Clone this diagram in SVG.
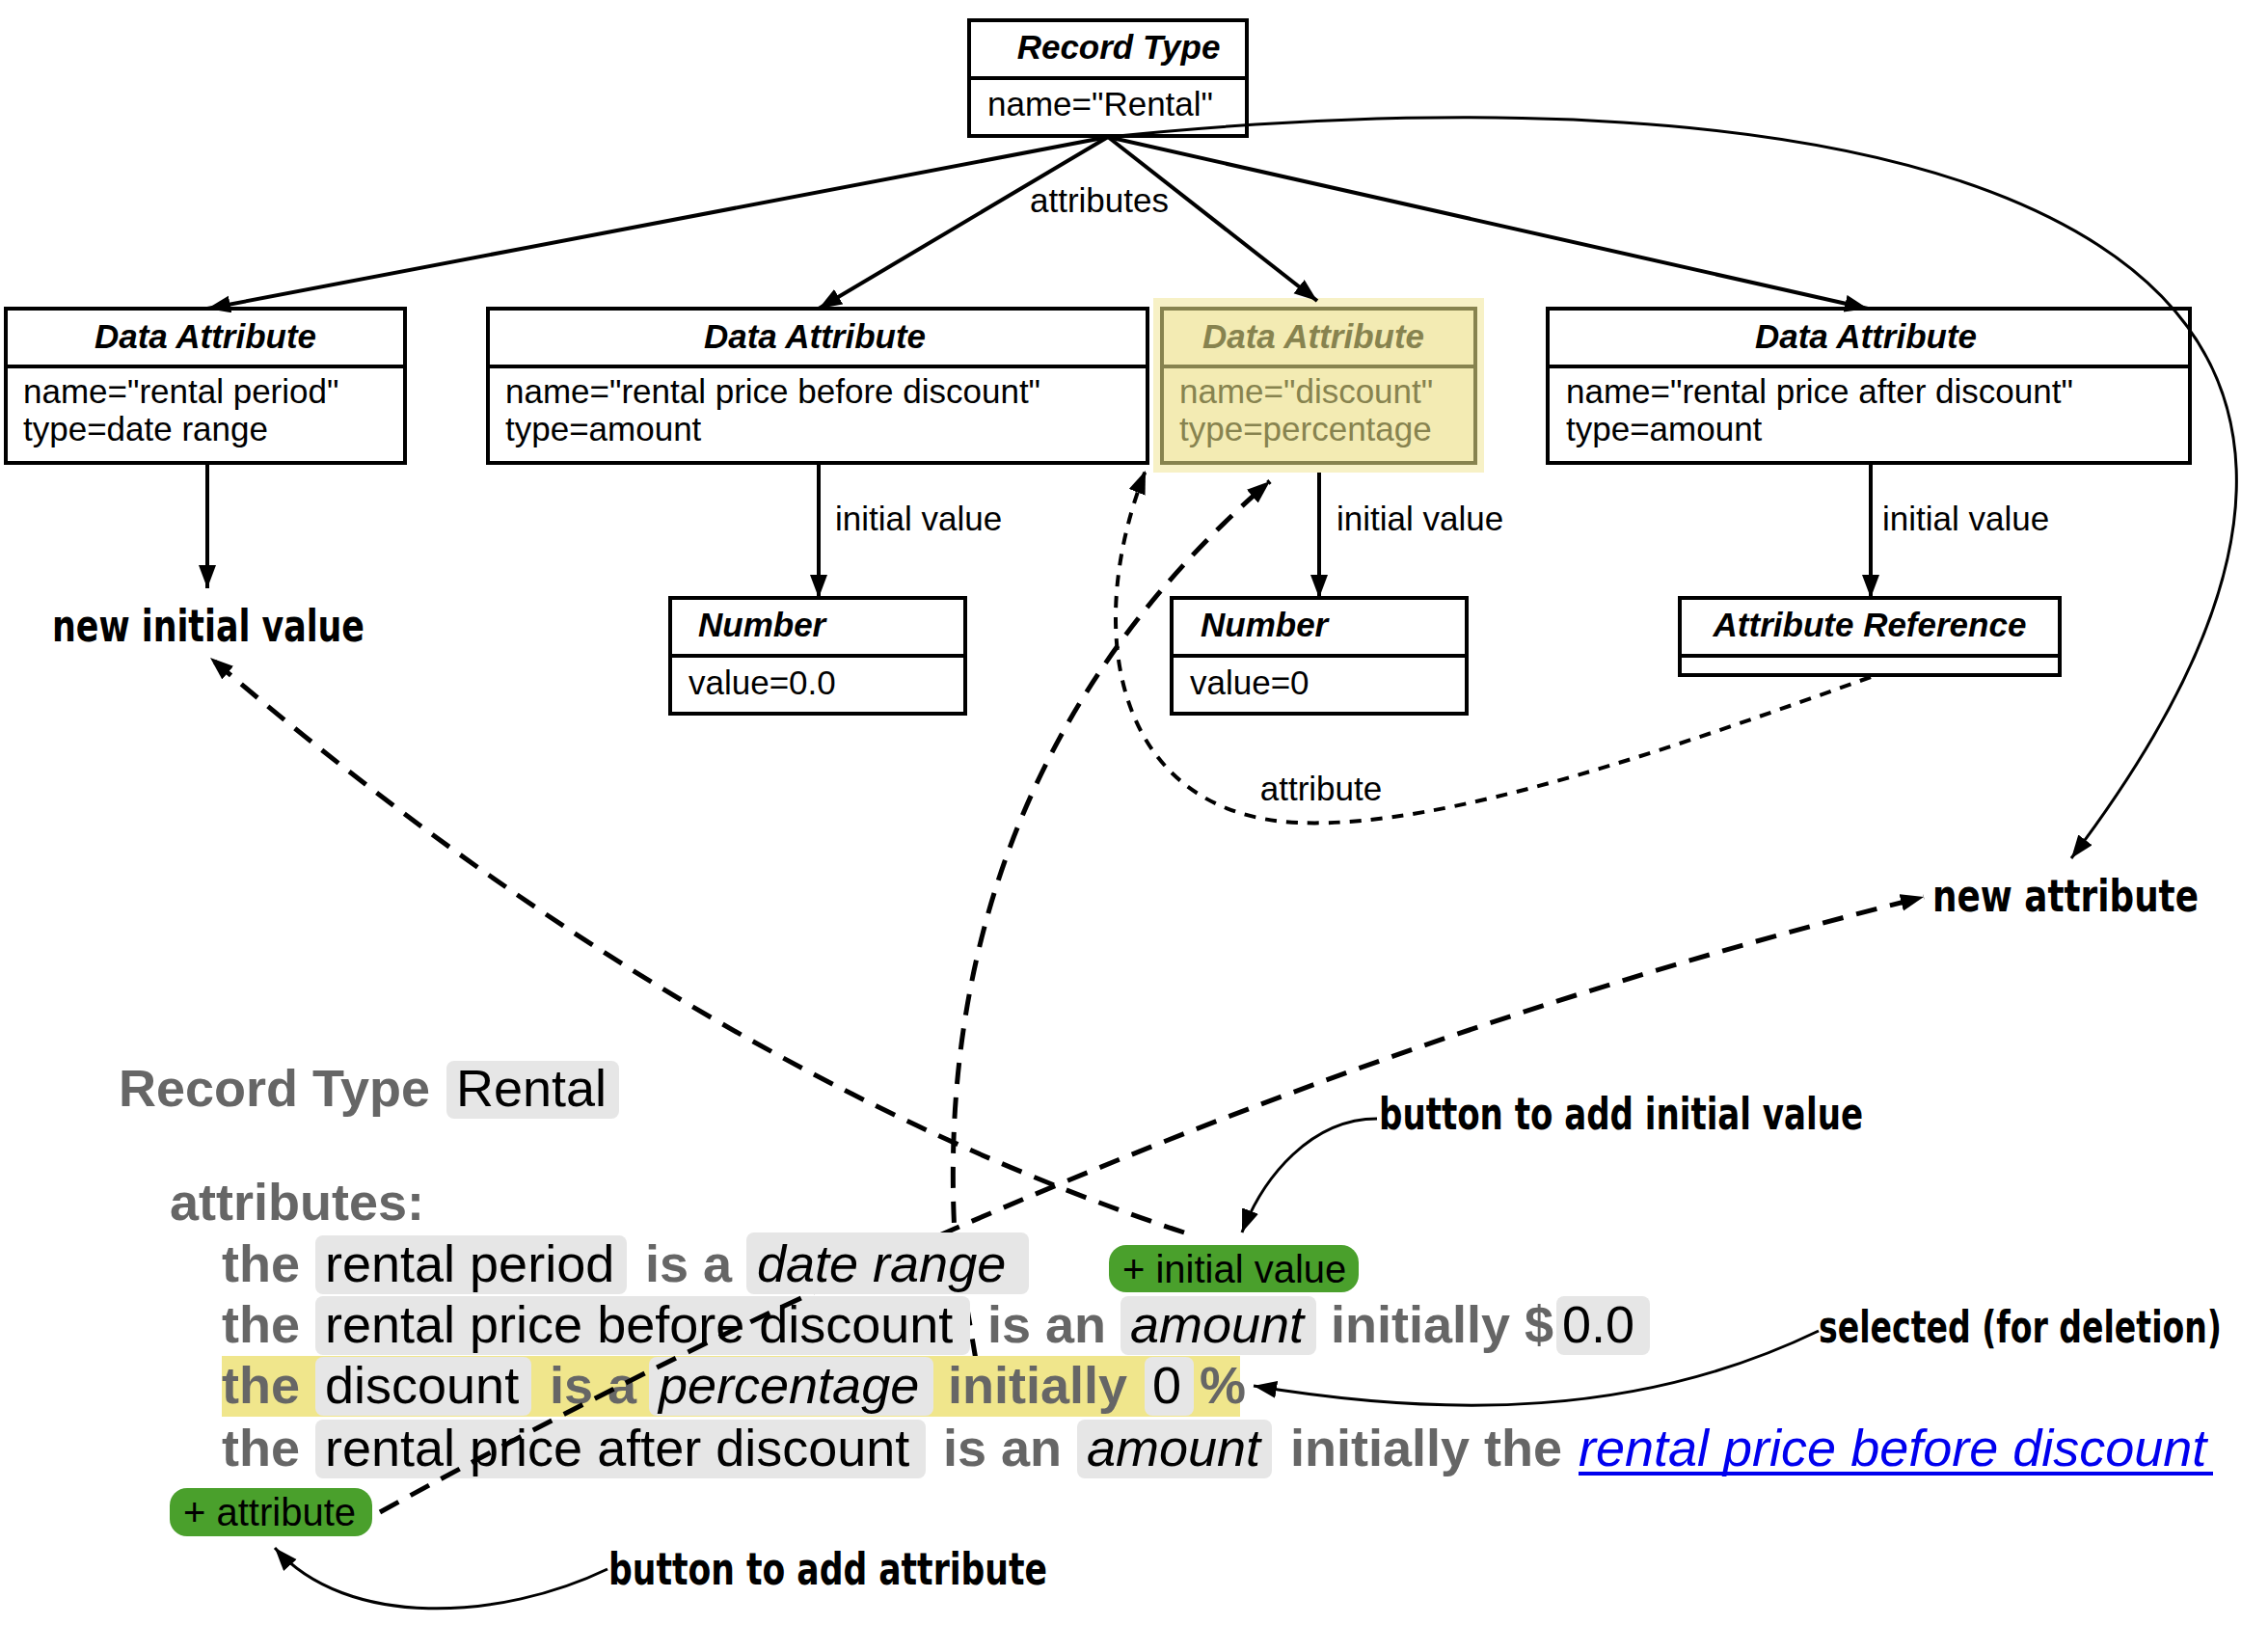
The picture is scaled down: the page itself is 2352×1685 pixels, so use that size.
<svg xmlns="http://www.w3.org/2000/svg" width="2352" height="1685" viewBox="0 0 2352 1685">
<defs>
<marker id="ah" markerUnits="userSpaceOnUse" markerWidth="26" markerHeight="20" refX="24" refY="9" orient="auto"><path d="M0,0 L24,9 L0,18 z" fill="#000"/></marker>
<style>
text{font-family:"Liberation Sans",Arial,sans-serif;}
.box{fill:#fff;stroke:#000;stroke-width:4;}
.hd{font-size:35px;font-weight:bold;font-style:italic;}
.bd{font-size:35px;}
.hand{font-family:"DejaVu Sans Condensed","DejaVu Sans",sans-serif;font-weight:bold;font-size:46px;}
.sol{fill:none;stroke:#000;stroke-width:4;marker-end:url(#ah);}
.thin{fill:none;stroke:#000;stroke-width:3;marker-end:url(#ah);}
.dash{fill:none;stroke:#000;stroke-width:5;stroke-dasharray:22 14;marker-end:url(#ah);}
.dot{fill:none;stroke:#000;stroke-width:4;stroke-dasharray:12 10;marker-end:url(#ah);}
.kw{font-size:54px;font-weight:bold;fill:#666;}
.v{fill:#e6e6e6;}
.vt{font-size:54px;fill:#000;}
.it{font-style:italic;}
.btn{fill:#4aa02c;}
</style>
</defs>
<rect width="2352" height="1685" fill="#fff"/>

<g id="connectors-back">
<path class="dash" d="M1012,1410 L990,1280 C975,1000 1060,720 1317,499"/>
</g>

<g id="editor">
<text x="123" y="1147" class="kw">Record Type</text>
<rect class="v" x="463" y="1100" width="179" height="60" rx="8"/>
<text x="473" y="1147" class="vt">Rental</text>
<text x="176" y="1265" class="kw">attributes:</text>
<rect x="230" y="1406" width="1056" height="63" fill="#f0e68c"/>
<text x="230" y="1329" class="kw">the</text>
<rect class="v" x="327" y="1281" width="323" height="61" rx="8"/>
<text x="337" y="1329" class="vt">rental period</text>
<text x="669" y="1329" class="kw">is a</text>
<text x="230" y="1392" class="kw">the</text>
<rect class="v" x="327" y="1344" width="679" height="61" rx="8"/>
<text x="337" y="1392" class="vt">rental price before discount</text>
<text x="1024" y="1392" class="kw">is an</text>
<rect class="v" x="1162" y="1344" width="203" height="61" rx="8"/>
<text x="1172" y="1392" class="vt it">amount</text>
<text x="1380" y="1392" class="kw">initially $</text>
<rect class="v" x="1614" y="1344" width="97" height="61" rx="8"/>
<text x="1620" y="1392" class="vt">0.0</text>
<text x="230" y="1455" class="kw">the</text>
<rect class="v" x="327" y="1407" width="224" height="61" rx="8"/>
<text x="337" y="1455" class="vt">discount</text>
<text x="570" y="1455" class="kw">is a</text>
<rect class="v" x="673" y="1407" width="295" height="61" rx="8"/>
<text x="683" y="1455" class="vt it">percentage</text>
<text x="983" y="1455" class="kw">initially</text>
<rect class="v" x="1187" y="1407" width="51" height="61" rx="8"/>
<text x="1195" y="1455" class="vt">0</text>
<text x="1244" y="1455" class="kw">%</text>
<text x="230" y="1520" class="kw">the</text>
<rect class="v" x="327" y="1472" width="633" height="61" rx="8"/>
<text x="337" y="1520" class="vt">rental price after discount</text>
<text x="978" y="1520" class="kw">is an</text>
<rect class="v" x="1117" y="1472" width="202" height="61" rx="8"/>
<text x="1127" y="1520" class="vt it">amount</text>
<text x="1338" y="1520" class="kw">initially the</text>
<text x="1637" y="1520" class="vt it" style="fill:#0000ee">rental price before discount</text>
<line x1="1637" y1="1528" x2="2295" y2="1528" stroke="#0000ee" stroke-width="4"/>
</g>
<g id="btn-initial-value">
<rect class="btn" x="1150" y="1291" width="259" height="49" rx="18"/>
<text x="1164" y="1330" font-size="40">+ initial value</text>
</g>
<g id="btn-attribute">
<rect class="btn" x="176" y="1543" width="210" height="50" rx="18"/>
<text x="190" y="1582" font-size="40">+ attribute</text>
</g>

<g id="record-type">
<rect class="box" x="1005" y="21" width="288" height="120"/>
<line x1="1005" y1="81" x2="1293" y2="81" stroke="#000" stroke-width="4"/>
<text x="1160" y="61" class="hd" text-anchor="middle">Record Type</text>
<text x="1024" y="120" class="bd">name="Rental"</text>
</g>
<g id="da1">
<rect class="box" x="6" y="320" width="414" height="160"/>
<line x1="6" y1="380" x2="420" y2="380" stroke="#000" stroke-width="4"/>
<text x="213" y="361" class="hd" text-anchor="middle">Data Attribute</text>
<text x="24" y="418" class="bd">name="rental period"</text>
<text x="24" y="457" class="bd">type=date range</text>
</g>
<g id="da2">
<rect class="box" x="506" y="320" width="684" height="160"/>
<line x1="506" y1="380" x2="1190" y2="380" stroke="#000" stroke-width="4"/>
<text x="845" y="361" class="hd" text-anchor="middle">Data Attribute</text>
<text x="524" y="418" class="bd">name="rental price before discount"</text>
<text x="524" y="457" class="bd">type=amount</text>
</g>
<g id="da3">
<rect x="1196" y="309" width="343" height="181" fill="#f7f1c6"/>
<rect x="1205" y="320" width="325" height="160" fill="#f3ebb3" stroke="#87834f" stroke-width="4"/>
<line x1="1205" y1="380" x2="1530" y2="380" stroke="#87834f" stroke-width="4"/>
<text x="1362" y="361" class="hd" text-anchor="middle" fill="#87834f">Data Attribute</text>
<text x="1223" y="418" class="bd" fill="#87834f">name="discount"</text>
<text x="1223" y="457" class="bd" fill="#87834f">type=percentage</text>
</g>
<g id="da4">
<rect class="box" x="1605" y="320" width="666" height="160"/>
<line x1="1605" y1="380" x2="2271" y2="380" stroke="#000" stroke-width="4"/>
<text x="1935" y="361" class="hd" text-anchor="middle">Data Attribute</text>
<text x="1624" y="418" class="bd">name="rental price after discount"</text>
<text x="1624" y="457" class="bd">type=amount</text>
</g>
<g id="number1">
<rect class="box" x="695" y="620" width="306" height="120"/>
<line x1="695" y1="680" x2="1001" y2="680" stroke="#000" stroke-width="4"/>
<text x="724" y="660" class="hd">Number</text>
<text x="714" y="720" class="bd">value=0.0</text>
</g>
<g id="number2">
<rect class="box" x="1215" y="620" width="306" height="120"/>
<line x1="1215" y1="680" x2="1521" y2="680" stroke="#000" stroke-width="4"/>
<text x="1245" y="660" class="hd">Number</text>
<text x="1234" y="720" class="bd">value=0</text>
</g>
<g id="attr-ref">
<rect class="box" x="1742" y="620" width="394" height="80"/>
<line x1="1742" y1="680" x2="2136" y2="680" stroke="#000" stroke-width="4"/>
<text x="1939" y="660" class="hd" text-anchor="middle">Attribute Reference</text>
</g>

<g id="note-new-initial"><text x="54" y="665" class="hand" textLength="324" lengthAdjust="spacingAndGlyphs">new initial value</text></g>
<g id="note-new-attr"><text x="2004" y="945" class="hand" textLength="276" lengthAdjust="spacingAndGlyphs">new attribute</text></g>
<g id="note-btn-iv"><text x="1430" y="1171" class="hand" textLength="502" lengthAdjust="spacingAndGlyphs">button to add initial value</text></g>
<g id="note-selected"><text x="1886" y="1392" class="hand" textLength="418" lengthAdjust="spacingAndGlyphs">selected (for deletion)</text></g>
<g id="note-btn-attr"><text x="631" y="1643" class="hand" textLength="455" lengthAdjust="spacingAndGlyphs">button to add attribute</text></g>

<g id="connectors">
<path class="sol" d="M1149,142 L215,320"/>
<path class="sol" d="M1149,142 L849,320"/>
<path class="sol" d="M1149,142 L1366,312"/>
<path class="sol" d="M1149,142 L1937,320"/>
<text x="1140" y="220" class="bd" text-anchor="middle">attributes</text>
<path class="thin" d="M1149,142 C2000,55 2640,240 2148,890"/>
<path class="sol" d="M215,480 L215,610"/>
<path class="sol" d="M849,480 L849,620"/>
<text x="866" y="550" class="bd">initial value</text>
<path class="sol" d="M1368,490 L1368,620"/>
<text x="1386" y="550" class="bd">initial value</text>
<path class="sol" d="M1940,480 L1940,620"/>
<text x="1952" y="550" class="bd">initial value</text>
<path class="dot" d="M1940,702 C1750,770 1500,860 1346,853 C1160,845 1120,660 1188,488"/>
<text x="1370" y="830" class="bd" text-anchor="middle">attribute</text>
<path class="dash" d="M1228,1278 Q714,1108 218,682"/>
<path class="dash" d="M394,1568 Q1186,1132 1995,930"/>
<path class="thin" d="M630,1627 C520,1680 360,1690 285,1605"/>
<path class="thin" d="M1428,1160 C1360,1160 1310,1220 1288,1278"/>
<path class="thin" d="M1886,1380 C1700,1470 1500,1470 1300,1437"/>
</g>

<g id="date-range-value">
<rect class="v" x="774" y="1278" width="293" height="64" rx="8"/>
<text x="785" y="1329" class="vt it">date range</text>
</g>
</svg>
